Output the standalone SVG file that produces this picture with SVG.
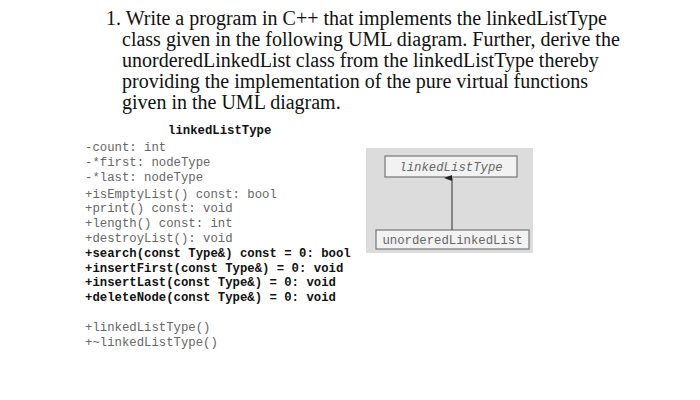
<svg xmlns="http://www.w3.org/2000/svg" width="700" height="400" viewBox="0 0 700 400">
<style>
.q{font-family:"Liberation Serif",serif;font-size:20px;fill:#111}
.c{font-family:"Liberation Mono",monospace;font-size:12.3px;fill:#666}
.b{font-family:"Liberation Mono",monospace;font-size:12.3px;font-weight:bold;fill:#111}
.box{fill:#f2f2f2;stroke:#777;stroke-width:1.2}
</style>
<defs><marker id="ah" markerWidth="8" markerHeight="8" refX="4" refY="8" orient="auto" markerUnits="userSpaceOnUse"><path d="M1,8 L4,0 L7,8 Z" fill="#222"/></marker></defs>
<rect width="700" height="400" fill="#fff"/>
<g id="question">
<text class="q" x="106" y="25">1. Write a program in C++ that implements the linkedListType</text>
<text class="q" x="122" y="46">class given in the following UML diagram. Further, derive the</text>
<text class="q" x="122" y="67">unorderedLinkedList class from the linkedListType thereby</text>
<text class="q" x="122" y="88">providing the implementation of the pure virtual functions</text>
<text class="q" x="122" y="109">given in the UML diagram.</text>
</g>
<g id="uml-class">
<text class="b" x="168" y="134">linkedListType</text>
<text class="c" x="85" y="151">-count: int</text>
<text class="c" x="85" y="166">-*first: nodeType</text>
<text class="c" x="85" y="181">-*last: nodeType</text>
<text class="c" x="85" y="198">+isEmptyList() const: bool</text>
<text class="c" x="85" y="212">+print() const: void</text>
<text class="c" x="85" y="227">+length() const: int</text>
<text class="c" x="85" y="242">+destroyList(): void</text>
<text class="b" x="85" y="257">+search(const Type&amp;) const = 0: bool</text>
<text class="b" x="85" y="272">+insertFirst(const Type&amp;) = 0: void</text>
<text class="b" x="85" y="286">+insertLast(const Type&amp;) = 0: void</text>
<text class="b" x="85" y="301">+deleteNode(const Type&amp;) = 0: void</text>
<text class="c" x="85" y="331">+linkedListType()</text>
<text class="c" x="85" y="346">+~linkedListType()</text>
</g>
<rect x="366" y="148" width="167" height="105" fill="#dcdcdc"/>
<g id="linkedListType">
<rect class="box" x="385" y="156" width="132" height="21"/>
<text class="c" x="451" y="171" text-anchor="middle" font-style="italic" fill="#555">linkedListType</text>
</g>
<g id="unorderedLinkedList">
<rect class="box" x="376" y="230" width="153" height="19"/>
<text class="c" x="452.5" y="244" text-anchor="middle" fill="#555">unorderedLinkedList</text>
</g>
<g id="connectors">
<line x1="452" y1="230" x2="452" y2="178" stroke="#555" stroke-width="1.3" marker-end="url(#ah)"/>
</g>
</svg>
